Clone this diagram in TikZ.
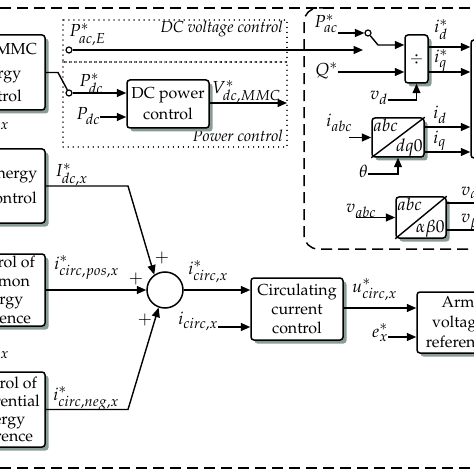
\documentclass[tikz,border=0pt]{standalone}
\usepackage[T1]{fontenc}
\usepackage{mathpazo}
\DeclareMathSizes{17.5}{17.5}{14.5}{11}
\DeclareMathSizes{16}{16}{12}{9}
\usetikzlibrary{arrows.meta,shadows,calc}
\definecolor{shad}{RGB}{138,156,150}
\tikzset{
  blk/.style={draw, line width=1.5bp, rounded corners=3bp, fill=white, align=center, inner sep=0pt,
    drop shadow={shadow xshift=3.5bp, shadow yshift=-3.5bp, fill=shad, opacity=1}},
  arr/.style={line width=1.4bp, -{Triangle[length=9.5bp,width=8bp]}},
  ln/.style={line width=1.4bp},
  lab/.style={inner sep=0pt, font=\fontsize{17.5}{20}\selectfont},
  sw/.style={circle, draw, line width=1.2bp, fill=white, minimum size=6bp, inner sep=0pt},
  dotbox/.style={line width=1.4bp, dash pattern=on 0.01bp off 5bp, line cap=round},
  dashb/.style={line width=1.5bp, dash pattern=on 11bp off 6bp},
}
\begin{document}
\begin{tikzpicture}[x=1bp, y=-1bp, font=\fontsize{16}{19}\selectfont]
\useasboundingbox (0,0) rectangle (474,474);
\clip (0,0) rectangle (474,474);
% helper rows
\coordinate (y33) at (0,33); \coordinate (y47) at (0,47); \coordinate (y72) at (0,72);
\coordinate (y100) at (0,100); \coordinate (y103) at (0,103); \coordinate (y117) at (0,117);
\coordinate (y127) at (0,127); \coordinate (y152) at (0,152); \coordinate (y174) at (0,174);
\coordinate (y203) at (0,203); \coordinate (y230) at (0,230); \coordinate (y308) at (0,308);
\coordinate (y327) at (0,327); \coordinate (y337) at (0,337);
% dashed boundaries
\coordinate (tl) at (0,8); \coordinate (tr) at (480,8);
\draw[dashb] (tl) -- (tr);
\coordinate (bl) at (0,468); \coordinate (br) at (480,468);
\draw[dashb] (bl) -- (br);
\coordinate (ra) at (330,8); \coordinate (rb) at (304,8); \coordinate (rc) at (304,249); \coordinate (rd) at (480,249);
\draw[dashb, rounded corners=14bp] (ra) -- (rb) -- (rc) -- (rd);
% dotted boxes
\coordinate (d1) at (63,20); \coordinate (d2) at (287,62); \coordinate (d3) at (63,62); \coordinate (d4) at (287,147);
\draw[dotbox] (d1) rectangle (d2);
\draw[dotbox] (d3) rectangle (d4);
\node[inner sep=0pt, anchor=base east, font=\fontsize{16}{19}\selectfont\itshape] (dcv) at (283,33) {DC voltage control};
\node[inner sep=0pt, anchor=base east, font=\fontsize{16}{19}\selectfont\itshape] (pwc) at (283,142) {Power control};
% left blocks
\node[blk, minimum width=96bp, minimum height=75bp, font=\fontsize{16}{23.5}\selectfont] (b1) at (-3,72.5) {Total MMC\\energy\\control};
\node[blk, minimum width=66bp, minimum height=74bp, font=\fontsize{16}{25}\selectfont] (b2) at (12,186) {Energy\\control};
\node[blk, minimum width=92bp, minimum height=72bp, font=\fontsize{16}{18.5}\selectfont] (b3) at (-1,290) {Control of\\common\\energy\\reference};
\node[blk, minimum width=88bp, minimum height=75bp, font=\fontsize{16}{18}\selectfont] (b4) at (1,409.5) {Control of\\differential\\energy\\reference};
\node[lab, anchor=base east] (px1) at (9,127) {$_{,x}$};
\node[lab, anchor=base east] (px2) at (9,356) {$_{,x}$};
% DC part
\node[sw] (s1) at (69,50) {};
\node[lab, anchor=base west] (pacE) at (69,37) {$P^*_{ac,E}$};
\coordinate (pacEend) at (363,50);
\draw[arr] (s1) -- (pacEend);
\node[sw] (s2) at (69,93) {};
\coordinate (arm1) at (58,72.5);
\draw[ln] (b1.east) -- (arm1) -- (s2);
\node[blk, minimum width=82bp, minimum height=48bp, font=\fontsize{16}{21}\selectfont] (dcp) at (168,104) {DC power\\control};
\draw[arr] (s2) -- (dcp.west |- s2);
\node[lab, anchor=base west] (pstar) at (79,87) {$P^*_{dc}$};
\node[lab, anchor=base west] (pdc) at (76,120) {$P_{dc}$};
\draw[arr] (pdc.east |- y117) -- (dcp.west |- y117);
\coordinate (vend) at (287,103);
\draw[arr] (dcp.east |- y103) -- (vend);
\node[lab, anchor=base west] (vdc) at (212,94) {$V^*_{dc,MMC}$};
% AC part
\node[lab, anchor=base west] (pac) at (314,28) {$P^*_{ac}$};
\node[sw] (s3) at (368,33) {};
\draw[arr] (pac.east |- y33) -- (s3);
\node[blk, minimum width=23bp, minimum height=48bp] (div) at (416.5,59) {$\div$};
\coordinate (a3) at (378,45);
\draw[arr] (s3) -- (a3) -- (div.west |- a3);
\node[lab, anchor=base west] (q) at (315,76) {$Q^*$};
\draw[arr] (q.east |- y72) -- (div.west |- y72);
\node[lab, anchor=base west] (vd) at (370,100) {$v_d$};
\draw[arr] (vd.east |- y100) -- (div.south |- y100) -- (div.south);
\node[blk, minimum width=50bp, minimum height=118bp] (ctl) at (496,99) {};
\node[lab, anchor=base west] (idr) at (434,33) {$i^*_d$};
\node[lab, anchor=base west] (iqr) at (434,63) {$i^*_q$};
\draw[arr] (div.east |- y47) -- (ctl.west |- y47);
\draw[arr] (div.east |- y72) -- (ctl.west |- y72);
\node[blk, minimum width=52bp, minimum height=39bp] (dq) at (398,137.5) {};
\draw[ln] (dq.south west) -- (dq.north east);
\node[lab, anchor=north west] (dqa) at ($(dq.north west)+(2,1)$) {$abc$};
\node[lab, anchor=south east] (dqb) at ($(dq.south east)+(-2,-1)$) {$dq0$};
\node[lab, anchor=base west] (iabc) at (326,127) {$i_{abc}$};
\draw[arr] ($(dq.west)+(-22,0)$) -- (dq.west);
\node[lab, anchor=base west] (id) at (433,119) {$i_d$};
\node[lab, anchor=base west] (iq) at (433,144) {$i_q$};
\draw[arr] (dq.east |- y127) -- (ctl.west |- y127);
\draw[arr] (dq.east |- y152) -- (ctl.west |- y152);
\node[lab, anchor=base east] (th) at (368,178) {$\theta$};
\draw[arr] (th.east |- y174) -- (dq.south |- y174) -- (dq.south);
\node[blk, minimum width=50bp, minimum height=41bp] (ab) at (421,217.5) {};
\draw[ln] (ab.south west) -- (ab.north east);
\node[lab, anchor=north west] (aba) at ($(ab.north west)+(2,1)$) {$abc$};
\node[lab, anchor=south east] (abb) at ($(ab.south east)+(-2,-1)$) {$\alpha\beta0$};
\node[lab, anchor=base west] (vabc) at (346,213) {$v_{abc}$};
\draw[arr] ($(ab.west)+(-39,0)$) -- (ab.west);
\node[lab, anchor=base west] (va) at (461,196) {$v_\alpha$};
\node[lab, anchor=base west] (vb) at (461,223) {$v_\beta$};
\coordinate (vaend) at (495,203); \coordinate (vbend) at (495,230);
\draw[arr] (ab.east |- y203) -- (vaend);
\draw[arr] (ab.east |- y230) -- (vbend);
% lower part
\node[circle, draw, line width=1.5bp, minimum size=36bp, inner sep=0pt] (sum) at (165,290) {};
\coordinate (k1) at (128,0);
\draw[arr] (b2.east) -- (b2.east -| k1) -- (sum.125);
\node[lab, anchor=base west] (idc) at (55,177) {$I^*_{dc,x}$};
\draw[arr] (b3.east) -- (sum.west);
\node[lab, anchor=base west] (ipos) at (54,269) {$i^*_{circ,pos,x}$};
\draw[arr] (b4.east) -- (b4.east -| k1) -- (sum.250);
\node[lab, anchor=base west] (ineg) at (53,400) {$i^*_{circ,neg,x}$};
\node[lab] (p1) at (162,258) {$+$};
\node[lab] (p2) at (136,279) {$+$};
\node[lab] (p3) at (145,320) {$+$};
\node[blk, minimum width=92bp, minimum height=62bp] (cc) at (297,309) {Circulating\\current\\control};
\draw[arr] (sum.east) -- (cc.west |- sum.east);
\node[lab, anchor=base west] (icx) at (188,274) {$i^*_{circ,x}$};
\node[lab, anchor=base west] (icm) at (178,324) {$i_{circ,x}$};
\draw[arr] (icm.east |- y327) -- (cc.west |- y327);
\node[blk, minimum width=82bp, minimum height=61bp, font=\fontsize{16}{20}\selectfont] (arm) at (458,322.5) {Arm\\voltage\\reference};
\draw[arr] (cc.east |- y308) -- (arm.west |- y308);
\node[lab, anchor=base west] (ucx) at (352,292) {$u^*_{circ,x}$};
\node[lab, anchor=base west] (ex) at (372,337) {$e^*_x$};
\draw[arr] (ex.east |- y337) -- (arm.west |- y337);
\end{tikzpicture}
\end{document}
